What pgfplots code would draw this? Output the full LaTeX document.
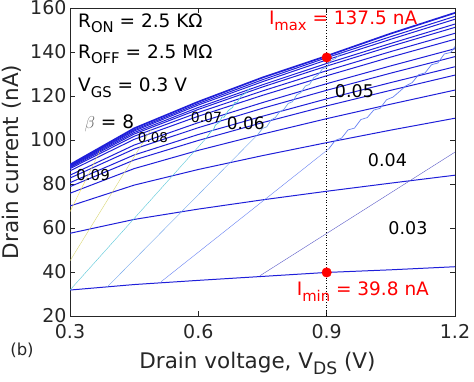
\documentclass[border=0pt]{standalone}
\usepackage{fontspec}
\setmainfont{DejaVu Sans}
\usepackage{pgfplots}
\pgfplotsset{compat=1.18}
\usetikzlibrary{calc}
\definecolor{bl}{rgb}{0.12,0.12,0.85}
\definecolor{ty1}{rgb}{0.96,0.88,0.35}
\definecolor{ty2}{rgb}{0.85,0.84,0.45}
\definecolor{tc}{rgb}{0.35,0.78,0.85}
\definecolor{tl}{rgb}{0.45,0.65,0.92}
\definecolor{tb}{rgb}{0.4,0.5,0.95}
\definecolor{td}{rgb}{0.35,0.35,0.78}
\newcommand{\sub}[1]{\raisebox{-0.55ex}{\scalebox{0.8}{#1}}}
\begin{document}
\begin{tikzpicture}
\begin{axis}[
  name=ax, scale only axis, width=385bp, height=308bp,
  xmin=0.3, xmax=1.2, ymin=20, ymax=160,
  xtick={0.3,0.6,0.9,1.2}, xticklabels={0.3,0.6,0.9,1.2},
  ytick={20,40,60,80,100,120,140,160},
  tick align=inside, major tick length=5bp,
  axis line style={black!85, line width=0.8pt},
  tick style={black!85, line width=0.6pt},
  ticklabel style={font=\fontsize{19bp}{22bp}\selectfont, text=black!85},
  xticklabel style={yshift=-4.4bp},
  /pgf/number format/assume math mode=true,
  clip mode=individual,
]
% blue characteristic curves
\addplot[bl, line width=1.7pt] coordinates {(0.3,88.8) (0.45,105.3) (0.6,117.4) (0.75,128.4) (0.9,138.2) (1.05,148.4) (1.2,157.8)};
\addplot[bl, line width=1pt] coordinates {(0.3,88.5) (0.45,104.6) (0.6,116.6) (0.75,127.4) (0.9,137.4) (1.05,147.0) (1.2,156.2)};
\addplot[bl, line width=1pt] coordinates {(0.3,88.2) (0.45,104.1) (0.6,115.9) (0.75,126.5) (0.9,136.4) (1.05,145.8) (1.2,154.9)};
\addplot[bl, line width=1pt] coordinates {(0.3,87.9) (0.45,103.4) (0.6,114.8) (0.75,125.1) (0.9,134.8) (1.05,143.9) (1.2,152.7)};
\addplot[bl, line width=1pt] coordinates {(0.3,87.5) (0.45,102.7) (0.6,113.9) (0.75,124.1) (0.9,133.6) (1.05,142.6) (1.2,151.2)};
\addplot[bl, line width=1pt] coordinates {(0.3,87.0) (0.45,101.7) (0.6,112.5) (0.75,122.3) (0.9,131.5) (1.05,140.2) (1.2,148.5)};
\addplot[bl, line width=1pt] coordinates {(0.3,86.0) (0.45,100.3) (0.6,110.8) (0.75,120.3) (0.9,129.2) (1.05,137.7) (1.2,145.8)};
\addplot[bl, line width=1pt] coordinates {(0.3,84.0) (0.45,97.7) (0.6,107.9) (0.75,117.0) (0.9,125.6) (1.05,133.7) (1.2,141.5)};
\addplot[bl, line width=1pt] coordinates {(0.3,82.7) (0.45,95.9) (0.6,105.6) (0.75,114.4) (0.9,122.6) (1.05,130.4) (1.2,137.9)};
\addplot[bl, line width=1pt] coordinates {(0.3,80.6) (0.45,93.2) (0.6,102.5) (0.75,110.8) (0.9,118.7) (1.05,126.1) (1.2,133.3)};
\addplot[bl, line width=1pt] coordinates {(0.3,78.8) (0.45,90.9) (0.6,99.8) (0.75,107.9) (0.9,115.5) (1.05,122.6) (1.2,129.5)};
\addplot[bl, line width=1pt] coordinates {(0.3,75.8) (0.45,87.0) (0.6,95.3) (0.75,102.7) (0.9,109.7) (1.05,116.3) (1.2,122.7)};
\addplot[bl, line width=1pt] coordinates {(0.3,70.0) (0.45,79.5) (0.6,86.6) (0.75,92.9) (0.9,98.8) (1.05,104.5) (1.2,109.9)};
\addplot[bl, line width=1pt] coordinates {(0.3,57.6) (0.45,63.9) (0.6,68.6) (0.75,72.8) (0.9,76.7) (1.05,80.4) (1.2,84.0)};
\addplot[bl, line width=1pt] coordinates {(0.3,31.8) (0.45,34.3) (0.6,36.2) (0.75,38.0) (0.9,39.8) (1.05,41.0) (1.2,42.4)};
% switching trajectories
\addplot[ty1, line width=0.4pt] coordinates {(0.3,67.4) (0.37,95)};
\addplot[ty2, line width=0.4pt] coordinates {(0.3,45.1) (0.49,105)};
\addplot[tc, line width=0.4pt] coordinates {(0.3,31.8) (0.62,101.2)};
\addplot[tc, line width=0.7pt] coordinates {(0.62,101.2) (0.63,104.0) (0.635,104.5) (0.64,106.8) (0.65,108.2) (0.655,110.5) (0.66,110.3) (0.67,113.4) (0.68,114.8) (0.685,117.1) (0.69,116.9) (0.70,120.0) (0.71,121.2) (0.72,123.5)};
\addplot[tl, line width=0.4pt] coordinates {(0.386,33) (0.74,102.7)};
\addplot[tl, line width=0.7pt] coordinates {(0.74,102.7) (0.75,105.3) (0.76,106.0) (0.77,109.1) (0.78,110.2) (0.79,112.8) (0.80,113.9) (0.81,116.6) (0.82,117.4) (0.83,120.5) (0.84,121.6) (0.85,124.5) (0.86,125.3) (0.87,128.4) (0.88,129.6) (0.89,132.3) (0.90,133.0) (0.91,136.2) (0.92,137.0) (0.935,139.5)};
\addplot[tb, line width=0.4pt] coordinates {(0.513,35.6) (0.905,96)};
\addplot[tb, line width=0.7pt] coordinates {(0.905,96.0) (0.92,99.8) (0.935,100.9) (0.95,104.6) (0.965,105.4) (0.98,109.3) (0.995,110.2) (1.01,113.6) (1.025,114.4) (1.04,118.3) (1.055,119.5) (1.07,122.0) (1.085,124.6) (1.10,126.1) (1.115,129.7) (1.13,130.5) (1.145,134.2) (1.16,135.0) (1.175,139.1) (1.19,139.8) (1.2,142.5)};
\addplot[td, line width=0.4pt] coordinates {(0.744,38.3) (1.2,94.5)};
% marker line
\addplot[black, dotted, line width=0.7pt] coordinates {(0.9,20) (0.9,160)};
\addplot[only marks, mark=*, mark size=4.8pt, mark options={fill=red, draw=red}] coordinates {(0.9,137.5) (0.9,39.8)};
% labels
\node[anchor=base west, font=\fontsize{18.5bp}{22bp}\selectfont] at (axis cs:0.311,151.3) {R\sub{ON} = 2.5 KΩ};
\node[anchor=base west, font=\fontsize{18.5bp}{22bp}\selectfont] at (axis cs:0.311,137.1) {R\sub{OFF} = 2.5 MΩ};
\node[anchor=base west, font=\fontsize{18.5bp}{22bp}\selectfont] at (axis cs:0.311,122.0) {V\sub{GS} = 0.3 V};
\node[anchor=base west, font=\fontsize{18.5bp}{22bp}\selectfont] at (axis cs:0.326,105.3) {{\color{black!60}$\beta$} = 8};
\node[anchor=base west, red, font=\fontsize{18.5bp}{22bp}\selectfont] at (axis cs:0.757,152.3) {I\sub{max} = 137.5 nA};
\node[anchor=base west, red, font=\fontsize{18.5bp}{22bp}\selectfont] at (axis cs:0.822,29.3) {I\sub{min} = 39.8 nA};
\node[font=\fontsize{15bp}{18bp}\selectfont] at (axis cs:0.354,84.1) {0.09};
\node[font=\fontsize{13.5bp}{16bp}\selectfont] at (axis cs:0.494,100.9) {0.08};
\node[font=\fontsize{14bp}{16bp}\selectfont] at (axis cs:0.619,110.2) {0.07};
\node[font=\fontsize{17bp}{20bp}\selectfont] at (axis cs:0.711,107.4) {0.06};
\node[font=\fontsize{17.5bp}{20bp}\selectfont] at (axis cs:0.965,122.2) {0.05};
\node[font=\fontsize{17.5bp}{20bp}\selectfont] at (axis cs:1.042,90.9) {0.04};
\node[font=\fontsize{17.5bp}{20bp}\selectfont] at (axis cs:1.09,59.9) {0.03};
\coordinate (sw) at (rel axis cs:0,0);
\coordinate (ne) at (rel axis cs:1,1);
\end{axis}
\node[rotate=90, font=\fontsize{21.5bp}{24bp}\selectfont, text=black!85] at ($(sw)!0.5!(sw|-ne)+(-58bp,0)$) {Drain current (nA)};
\node[anchor=base, font=\fontsize{21.5bp}{24bp}\selectfont, text=black!85] at ($(sw)!0.5!(sw-|ne)+(-5bp,-52bp)$) {Drain voltage, V\sub{DS} (V)};
\node[anchor=base, font=\fontsize{16.5bp}{20bp}\selectfont, text=black!85] at ($(sw)+(-48bp,-39bp)$) {(b)};
\pgfresetboundingbox
\path[use as bounding box] ($(sw)+(-70bp,-65bp)$) rectangle ($(ne)+(19bp,8bp)$);
\end{tikzpicture}
\end{document}
